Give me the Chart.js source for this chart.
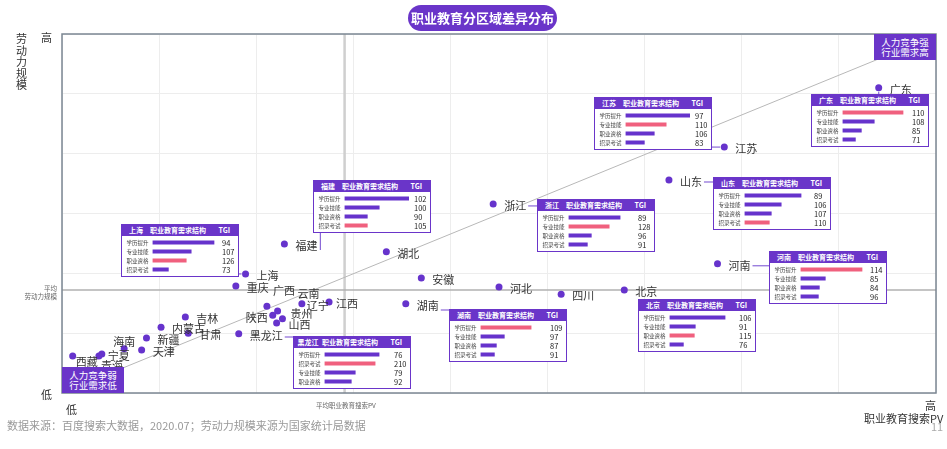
<!DOCTYPE html>
<html>
<head>
<meta charset="utf-8">
<script src="https://cdn.jsdelivr.net/npm/chart.js@4.4.1/dist/chart.umd.min.js"></script>
<style>
  body { margin: 0; background: #fff; font-family: "Noto Sans CJK SC", "Noto Sans", sans-serif; }
  #wrap { position: relative; width: 947px; height: 449px; overflow: hidden; }
  #main { position: absolute; left: 0; top: 0; }
  .t { position: absolute; white-space: nowrap; line-height: 1; color: #333; }
  .title { position: absolute; left: 408px; top: 5px; width: 149px; height: 26px; border-radius: 13px;
           background: #6a35c9; color: #fff; font-weight: bold; font-size: 13px; line-height: 26px; text-align: center; }
  .corner { position: absolute; width: 62px; height: 26px; background: #6a35c9; color: #fff;
            font-size: 9.5px; line-height: 10px; text-align: center; box-sizing: border-box; padding-top: 3px; }
  .box { position: absolute; width: 118px; height: 53px; border: 1.5px solid #6a35c9; background: #fff; box-sizing: border-box; }
  .box .hd { height: 11px; background: #6a35c9; color: #fff; font-size: 7px; font-weight: bold; line-height: 11px; display: flex; }
  .box .hd .p { width: 28px; text-align: center; }
  .box .hd .g { margin-left: auto; margin-right: 8px; }
  .box canvas { display: block; }
</style>
</head>
<body>
<div id="wrap">
  <canvas id="main" width="947" height="449"></canvas>
  <div class="title">职业教育分区域差异分布</div>
  <div class="t" style="left:16px;top:33px;font-size:11px;line-height:11.5px;">劳<br>动<br>力<br>规<br>模</div>
  <div class="t" style="left:41px;top:32px;font-size:11px;">高</div>
  <div class="t" style="left:41px;top:389px;font-size:11px;">低</div>
  <div class="t" style="left:66px;top:404px;font-size:11px;">低</div>
  <div class="t" style="left:925px;top:400px;font-size:11px;">高</div>
  <div class="t" style="left:864px;top:413px;font-size:11px;">职业教育搜索PV</div>
  <div class="t" style="left:931px;top:421px;font-size:11px;color:#aaa;">11</div>
  <div class="t" style="left:7px;top:420px;font-size:11px;color:#999;">数据来源：百度搜索大数据，2020.07；劳动力规模来源为国家统计局数据</div>
  <div class="t" style="right:890px;top:284px;font-size:6.5px;color:#666;text-align:right;line-height:8px;">平均<br>劳动力规模</div>
  <div class="t" style="left:316px;top:402px;font-size:6.5px;color:#666;">平均职业教育搜索PV</div>
  <div class="corner" style="left:874px;top:34px;">人力竞争强<br>行业需求高</div>
  <div class="corner" style="left:62px;top:367px;">人力竞争弱<br>行业需求低</div>
</div>
<script>
const provinces = ['广东','江苏','山东','浙江','河南','北京','四川','河北','安徽','湖北','湖南','福建','上海','重庆','江西','辽宁','广西','云南','陕西','贵州','山西','黑龙江','吉林','内蒙古','甘肃','新疆','海南','天津','宁夏','青海','西藏'];
const searchPV = [8.41,6.82,6.25,4.44,6.75,5.79,5.14,4.50,3.70,3.34,3.54,2.29,1.89,1.79,2.75,2.47,2.11,2.22,2.17,2.27,2.21,1.82,1.27,1.02,1.30,0.87,0.64,0.82,0.41,0.38,0.11];
const laborScale = [5.10,4.11,3.56,3.16,2.16,1.72,1.65,1.77,1.92,2.36,1.49,2.49,1.99,1.79,1.52,1.49,1.45,1.37,1.30,1.24,1.17,0.99,1.27,1.10,1.00,0.92,0.74,0.72,0.65,0.62,0.62];
const avgPV = 2.91;
const avgLabor = 1.72;
const diagonal = [{ x: 0.63, y: 0.42 }, { x: 8.39, y: 5.57 }];

const boxProvinces = ['上海','福建','浙江','江苏','广东','山东','河南','北京','湖南','黑龙江'];
const rowsStd = ['学历提升','专业技能','职业资格','招录考试'];
const rowsHlj = ['学历提升','招录考试','专业技能','职业资格'];
const boxRows = [rowsStd, rowsStd, rowsStd, rowsStd, rowsStd, rowsStd, rowsStd, rowsStd, rowsStd, rowsHlj];
const boxTGI = [[94,107,126,73],[102,100,90,105],[89,128,96,91],[97,110,106,83],[110,108,85,71],[89,106,107,110],[114,85,84,96],[106,91,115,76],[109,97,87,91],[76,210,79,92]];
const boxShare = [[62,39,34,16],[65,35,23,23],[52,41,23,19],[65,41,29,19],[61,32,19,13],[57,37,27,25],[62,25,19,18],[56,26,25,14],[51,24,16,14],[55,51,31,27]];
const boxHighlight = [2,3,1,1,0,3,0,2,0,1];

// layout only
const boxPos = [[121,224],[313,180],[537,199],[594,97],[811,94],[713,177],[769,251],[638,299],[449,309],[293,336]];
const connectors = [['上海','right'],['福建','bottom'],['浙江','left'],['江苏','right'],['广东','top'],['山东','left'],['河南','left'],['湖南','left'],['黑龙江','left']];
const labelPlace = {
  '江西': { dx: 7 }, '辽宁': { dx: 5 },
  '海南': { dx: 0, dy: -7, align: 'center' },
  '宁夏': { dx: 6 }, '青海': { dx: 2, dy: 10 }, '西藏': { dx: 3, dy: 6 },
  '广西': { dx: 6, dy: -15 }, '云南': { dx: 20, dy: -17 },
  '陕西': { dx: -5, dy: 3, align: 'right' }, '贵州': { dx: 8, dy: -5 }, '山西': { dx: 12, dy: 2 }
};

const FONT = '"Noto Sans CJK SC", "Noto Sans", sans-serif';
const PINK = '#f0607e';
const LABEL_FONT = '11px ' + FONT;

function labelInfo(chart, name) {
  const i = provinces.indexOf(name);
  const pt = chart.getDatasetMeta(0).data[i];
  const p = labelPlace[name] || {};
  const dx = p.dx ?? 11, dy = p.dy ?? 2;
  return { pt, x: pt.x + dx, y: pt.y + dy, align: p.align || 'left' };
}

const framePlugin = {
  id: 'frame',
  beforeDatasetsDraw(chart) {
    const { ctx, chartArea: a, scales } = chart;
    ctx.save();
    const ax = scales.x.getPixelForValue(avgPV);
    const ay = scales.y.getPixelForValue(avgLabor);
    ctx.strokeStyle = '#cfcfcf';
    ctx.lineWidth = 2.5;
    ctx.beginPath(); ctx.moveTo(ax, a.top); ctx.lineTo(ax, a.bottom); ctx.stroke();
    ctx.strokeStyle = '#b0b0b0';
    ctx.lineWidth = 1.5;
    ctx.beginPath(); ctx.moveTo(a.left, ay); ctx.lineTo(a.right, ay); ctx.stroke();
    ctx.strokeStyle = '#7b8692';
    ctx.lineWidth = 1.5;
    ctx.strokeRect(a.left, a.top, a.right - a.left, a.bottom - a.top);
    ctx.restore();
  },
  afterDatasetsDraw(chart) {
    const ctx = chart.ctx;
    ctx.save();
    ctx.font = LABEL_FONT;
    ctx.fillStyle = '#333';
    ctx.textBaseline = 'middle';
    provinces.forEach((name) => {
      const l = labelInfo(chart, name);
      ctx.textAlign = l.align;
      ctx.fillText(name, l.x, l.y);
    });
    // connectors from labels / dots to the boxes
    ctx.strokeStyle = '#8a68d8';
    ctx.lineWidth = 1.2;
    connectors.forEach(([name, side]) => {
      const l = labelInfo(chart, name);
      const [bx, by] = boxPos[boxProvinces.indexOf(name)];
      const w = ctx.measureText(name).width;
      ctx.beginPath();
      if (side === 'left') {
        const y = Math.min(Math.max(by + 1, l.y), by + 52);
        ctx.moveTo(l.x + w + 2, y); ctx.lineTo(bx, y);
      } else if (side === 'right') {
        ctx.moveTo(bx + 118, l.pt.y); ctx.lineTo(l.pt.x - 4, l.pt.y);
      } else if (side === 'top') {
        ctx.moveTo(l.pt.x, l.pt.y + 4); ctx.lineTo(l.pt.x, by);
      } else {
        ctx.moveTo(l.x + w + 3, by + 53); ctx.lineTo(l.x + w + 3, l.y + 4);
      }
      ctx.stroke();
    });
    ctx.restore();
  }
};

new Chart(document.getElementById('main'), {
  type: 'scatter',
  data: {
    datasets: [
      {
        data: provinces.map((p, i) => ({ x: searchPV[i], y: laborScale[i] })),
        backgroundColor: '#6633cc',
        borderWidth: 0,
        pointRadius: 3.5
      },
      {
        data: diagonal,
        showLine: true,
        borderColor: '#b8b8b8',
        borderWidth: 1,
        pointRadius: 0
      }
    ]
  },
  options: {
    responsive: false,
    animation: false,
    events: [],
    layout: { padding: { left: 62, top: 34, right: 11, bottom: 56 } },
    plugins: { legend: { display: false }, tooltip: { enabled: false } },
    scales: {
      x: {
        min: 0, max: 9,
        ticks: { display: false, stepSize: 1 },
        grid: { color: '#ededed', drawTicks: false },
        border: { display: false }
      },
      y: {
        min: 0, max: 6,
        ticks: { display: false, stepSize: 1 },
        grid: { color: '#ededed', drawTicks: false },
        border: { display: false }
      }
    }
  },
  plugins: [framePlugin]
});

function makeBox(i) {
  const [left, top] = boxPos[i];
  const div = document.createElement('div');
  div.className = 'box';
  div.style.left = left + 'px';
  div.style.top = top + 'px';
  div.innerHTML = '<div class="hd"><span class="p">' + boxProvinces[i] + '</span><span>职业教育需求结构</span><span class="g">TGI</span></div>';
  const cv = document.createElement('canvas');
  cv.width = 115; cv.height = 39;
  cv.style.width = '115px'; cv.style.height = '39px';
  div.appendChild(cv);
  document.getElementById('wrap').appendChild(div);

  const values = {
    id: 'values',
    afterDatasetsDraw(chart) {
      const ctx = chart.ctx;
      ctx.save();
      ctx.font = '7.5px ' + FONT;
      ctx.fillStyle = '#222';
      ctx.textBaseline = 'middle';
      chart.getDatasetMeta(0).data.forEach((bar, j) => {
        ctx.fillText(boxTGI[i][j], chart.chartArea.right + 5, bar.y + 1);
      });
      ctx.restore();
    }
  };

  new Chart(cv, {
    type: 'bar',
    data: {
      labels: boxRows[i],
      datasets: [{
        data: boxShare[i],
        backgroundColor: boxShare[i].map((v, j) => (j === boxHighlight[i] ? PINK : '#6633cc')),
        barThickness: 3.5
      }]
    },
    options: {
      indexAxis: 'y',
      responsive: false,
      animation: false,
      events: [],
      layout: { padding: { top: 2, bottom: 1, right: 20, left: 0 } },
      plugins: { legend: { display: false }, tooltip: { enabled: false } },
      scales: {
        x: { display: false, min: 0, max: 65 },
        y: {
          grid: { display: false, drawTicks: false },
          border: { display: false },
          ticks: { autoSkip: false, font: { size: 5.5, family: FONT }, color: '#444', padding: 4 },
          afterFit(s) { s.width = 30.5; s.paddingTop = 0; s.paddingBottom = 0; }
        }
      }
    },
    plugins: [values]
  });
}

boxProvinces.forEach((p, i) => makeBox(i));
</script>
</body>
</html>
